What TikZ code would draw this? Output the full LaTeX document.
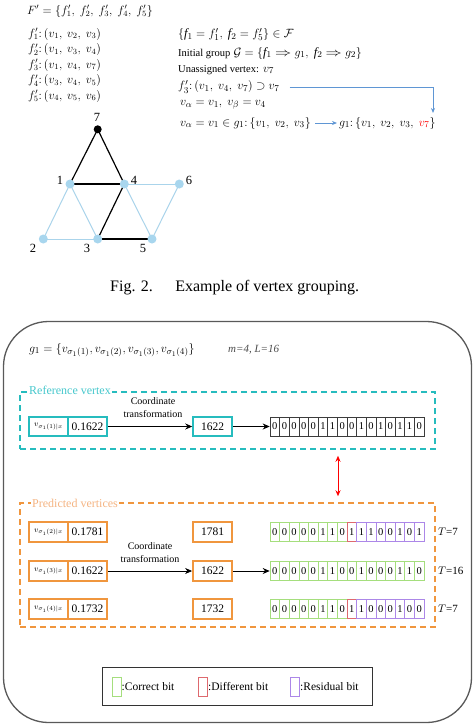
\documentclass[tikz,border=0pt]{standalone}
\usepackage{amsmath,amssymb,graphicx}
\usepackage{fontspec}
\setmainfont{Liberation Serif}
\usetikzlibrary{arrows.meta,backgrounds,calc}
\pgfdeclarelayer{bottom}
\pgfsetlayers{bottom,background,main}
\definecolor{tealc}{RGB}{38,188,190}
\definecolor{teallab}{RGB}{70,200,205}
\definecolor{orc}{RGB}{240,150,62}
\definecolor{orlab}{RGB}{245,180,130}
\definecolor{cg}{RGB}{165,222,125}
\definecolor{cr}{RGB}{222,105,110}
\definecolor{cp}{RGB}{172,135,232}
\definecolor{cb}{RGB}{60,60,60}
\definecolor{nodeblue}{RGB}{168,214,238}
\definecolor{edgeblue}{RGB}{170,212,235}
\definecolor{arrblue}{RGB}{95,150,212}
\newcommand{\tsz}[1]{{\fontsize{10.5}{12}\selectfont #1}}
\newcommand{\lrarr}{\mathrel{\scalebox{1.35}[1]{$\Rightarrow$}}}
\newcommand{\bitrow}[3]{%
  \foreach \b/\c [count=\i] in {#3} {
    \node[bitcell, draw=\c] (#1-\i) at ({270+(\i-0.5)*9.625}, #2) {\b};
  }}
\begin{document}
\begin{tikzpicture}[x=1pt,y=-1pt,
  txt/.style={anchor=west, inner sep=0pt, font=\fontsize{12.5}{14}\selectfont},
  ltxt/.style={anchor=west, inner sep=0pt, font=\fontsize{12}{13}\selectfont},
  gnode/.style={circle, fill=nodeblue, minimum size=9pt, inner sep=0pt},
  knode/.style={circle, fill=black, minimum size=8pt, inner sep=0pt},
  glab/.style={inner sep=0pt, font=\fontsize{12.5}{14}\selectfont},
  kedge/.style={line width=1.2pt, black},
  bedge/.style={line width=1pt, edgeblue},
  blarrow/.style={arrblue, line width=0.8pt, -{Stealth[length=5pt,width=4pt]}},
  karrow/.style={black, line width=0.8pt, -{Stealth[length=7pt,width=6pt]}},
  tbox/.style={draw=tealc, line width=1.5pt, minimum height=19pt, inner sep=0pt, font=\fontsize{11.5}{13}\selectfont},
  obox/.style={draw=orc, line width=1.8pt, minimum height=20pt, inner sep=0pt, font=\fontsize{11.5}{13}\selectfont},
  bitcell/.style={minimum width=9.625pt, minimum height=19pt, inner sep=0pt, line width=0.6pt, font=\fontsize{10.5}{10}\selectfont},
  ctlab/.style={align=center, inner sep=0pt, font=\fontsize{10}{12.5}\selectfont},
  tlab/.style={anchor=west, inner sep=0pt, font=\fontsize{11}{12}\selectfont},
  legrect/.style={minimum width=9pt, minimum height=19pt, inner sep=0pt, line width=0.6pt},
  legtxt/.style={anchor=west, inner sep=0pt, font=\fontsize{11.5}{13}\selectfont}]
\begin{pgfonlayer}{bottom}
\fill[white] (0,0) rectangle (474,726);
\end{pgfonlayer}
\useasboundingbox (0,0) rectangle (474,726);

% ---------- top left text ----------
\node[ltxt] (fset) at (27,11) {$F' = \{f_1',\ f_2',\ f_3',\ f_4',\ f_5'\}$};
\node[ltxt] (fa) at (28,34) {$f_1'{:}\,(v_1,\ v_2,\ v_3)$};
\node[ltxt] (fb) at (28,49.5) {$f_2'{:}\,(v_1,\ v_3,\ v_4)$};
\node[ltxt] (fc) at (28,65) {$f_3'{:}\,(v_1,\ v_4,\ v_7)$};
\node[ltxt] (fd) at (28,80.5) {$f_4'{:}\,(v_3,\ v_4,\ v_5)$};
\node[ltxt] (fe) at (28,96) {$f_5'{:}\,(v_4,\ v_5,\ v_6)$};

% ---------- top right text ----------
\node[txt] (l1) at (178,34.5) {$\{\mathit{f}_1 = f_1',\ \mathit{f}_2 = f_5'\} \in \mathcal{F}$};
\node[txt] (l2) at (178,53) {\tsz{Initial group} $\mathcal{G} = \{\mathit{f}_1 \lrarr g_1,\ \mathit{f}_2 \lrarr g_2\}$};
\node[txt] (l3) at (178,69.5) {\tsz{Unassigned vertex:} $v_7$};
\node[txt] (l4) at (178,87) {$f_3'{:}\,(v_1,\ v_4,\ v_7) \supset v_7$};
\node[txt] (l5) at (180,105) {$v_\alpha = v_1,\ v_\beta = v_4$};
\node[txt] (l6a) at (180,123) {$v_\alpha = v_1 \in g_1{:}\,\{v_1,\ v_2,\ v_3\}$};
\node[txt] (l6b) at (339,123) {$g_1{:}\,\{v_1,\ v_2,\ v_3,\ \textcolor{red}{v_7}\}$};
\coordinate (v7top) at (433,113);
\draw[blarrow, shorten <=10pt] (l4.east) -| (v7top);
\draw[blarrow, shorten <=4pt, shorten >=2pt] (l6a.east) -- (l6b.west);

% ---------- graph ----------
\node[knode] (n7) at (97.7,129.3) {};
\node[gnode] (n1) at (70,184) {};
\node[gnode] (n4) at (124.3,184) {};
\node[gnode] (n6) at (179.3,184) {};
\node[gnode] (n2) at (43.3,239) {};
\node[gnode] (n3) at (97.7,239) {};
\node[gnode] (n5) at (152,239) {};
\begin{pgfonlayer}{background}
\draw[bedge] (n1.center) -- (n2.center);
\draw[bedge] (n1.center) -- (n3.center);
\draw[bedge] (n2.center) -- (n3.center);
\draw[bedge] (n4.center) -- (n6.center);
\draw[bedge] (n4.center) -- (n5.center);
\draw[bedge] (n6.center) -- (n5.center);
\draw[kedge] (n7.center) -- (n1.center);
\draw[kedge] (n7.center) -- (n4.center);
\draw[kedge] (n1.center) -- (n4.center);
\draw[kedge] (n4.center) -- (n3.center);
\draw[kedge] (n3.center) -- (n5.center);
\end{pgfonlayer}
\node[glab] (lb7) at (97,117) {7};
\node[glab] (lb1) at (60,180) {1};
\node[glab] (lb4) at (134,180) {4};
\node[glab] (lb6) at (189,180) {6};
\node[glab] (lb2) at (33,248) {2};
\node[glab] (lb3) at (87,248) {3};
\node[glab] (lb5) at (143,248) {5};

% ---------- caption ----------
\node[anchor=west, inner sep=0pt, font=\fontsize{16}{18}\selectfont] (cap) at (110,288) {Fig. 2.\hspace{1.4em}Example of vertex grouping.};

% ---------- lower panel ----------
\node[draw=black!65, line width=1.3pt, rounded corners=45pt, minimum width=468pt, minimum height=401pt] (panel) at (237.5,522) {};
\node[txt, font=\fontsize{13.2}{14}\selectfont] (ghead) at (29,350) {$g_1 = \{v_{\sigma_1(1)}, v_{\sigma_1(2)}, v_{\sigma_1(3)}, v_{\sigma_1(4)}\}$};
\node[txt, font=\itshape\fontsize{11}{12}\selectfont, text=black!70] (mL) at (228,350) {m=4, L=16};

% reference vertex box
\node[draw=tealc, dashed, dash pattern=on 6pt off 4pt, line width=1.5pt, minimum width=415pt, minimum height=57pt, inner sep=0pt] (refbox) at (227.5,420.5) {};
\node[anchor=west, fill=white, inner sep=1pt, text=teallab, font=\fontsize{12}{13}\selectfont] (reflab) at (28,390) {Reference vertex};

\node[tbox, minimum width=39pt] (rv) at (48.5,426.5) {\fontsize{8.5}{10}\selectfont$v_{\sigma_1(1)|x}$};
\node[tbox, minimum width=39pt] (rval) at (87.5,426.5) {0.1622};
\node[tbox, minimum width=39pt] (rint) at (212.5,426.5) {1622};
\node[ctlab] (rct) at (153,407.5) {Coordinate\\transformation};
\bitrow{rb}{426.5}{0/cb,0/cb,0/cb,0/cb,0/cb,1/cb,1/cb,0/cb,0/cb,1/cb,0/cb,1/cb,0/cb,1/cb,1/cb,0/cb}
\draw[karrow] (rval.east) -- (rint.west);
\draw[karrow] (rint.east) -- (rb-1.west);

% predicted vertices box
\node[draw=orc, dashed, dash pattern=on 6pt off 4pt, line width=1.5pt, minimum width=415pt, minimum height=124pt, inner sep=0pt] (predbox) at (227.5,565) {};
\node[anchor=west, fill=white, inner sep=1pt, text=orlab, font=\fontsize{12}{13}\selectfont] (predlab) at (31,503) {Predicted vertices};

\coordinate (rx) at (338,475);
\draw[red, line width=0.9pt, {Stealth[length=6pt,width=5pt]}-{Stealth[length=6pt,width=5pt]}, shorten <=6pt, shorten >=6pt] (refbox.south -| rx) -- (predbox.north -| rx);

% row 1
\node[obox, minimum width=39pt] (pv1) at (48.5,532) {\fontsize{8.5}{10}\selectfont$v_{\sigma_1(2)|x}$};
\node[obox, minimum width=39pt] (pval1) at (87.5,532) {0.1781};
\node[obox, minimum width=39pt] (pint1) at (212.5,532) {1781};
\bitrow{pa}{532}{0/cg,0/cg,0/cg,0/cg,0/cg,1/cg,1/cg,0/cg,1/cr,1/cp,1/cp,0/cp,0/cp,1/cp,0/cp,1/cp}
\node[tlab] (t1) at (438,532) {$T$=7};
% row 2
\node[obox, minimum width=39pt] (pv2) at (48.5,571) {\fontsize{8.5}{10}\selectfont$v_{\sigma_1(3)|x}$};
\node[obox, minimum width=39pt] (pval2) at (87.5,571) {0.1622};
\node[obox, minimum width=39pt] (pint2) at (212.5,571) {1622};
\node[ctlab] (pct) at (150,552.5) {Coordinate\\transformation};
\bitrow{pb}{571}{0/cg,0/cg,0/cg,0/cg,0/cg,1/cg,1/cg,0/cg,0/cg,1/cg,0/cg,0/cg,0/cg,1/cg,1/cg,0/cg}
\node[tlab] (t2) at (438,571) {$T$=16};
\draw[karrow] (pval2.east) -- (pint2.west);
\draw[karrow] (pint2.east) -- (pb-1.west);
% row 3
\node[obox, minimum width=39pt] (pv3) at (48.5,609) {\fontsize{8.5}{10}\selectfont$v_{\sigma_1(4)|x}$};
\node[obox, minimum width=39pt] (pval3) at (87.5,609) {0.1732};
\node[obox, minimum width=39pt] (pint3) at (212.5,609) {1732};
\bitrow{pc}{609}{0/cg,0/cg,0/cg,0/cg,0/cg,1/cg,1/cg,0/cg,1/cr,1/cp,0/cp,0/cp,0/cp,1/cp,0/cp,0/cp}
\node[tlab] (t3) at (438,609) {$T$=7};

% legend
\node[draw=black!80, line width=0.9pt, minimum width=270pt, minimum height=38pt, inner sep=0pt] (legend) at (237,686) {};
\node[legrect, draw=cg] (lg1) at (116.5,686.5) {};
\node[legtxt] (lgt1) at (121.5,687) {:Correct bit};
\node[legrect, draw=cr] (lg2) at (203,686.5) {};
\node[legtxt] (lgt2) at (208,687) {:Different bit};
\node[legrect, draw=cp] (lg3) at (295,686.5) {};
\node[legtxt] (lgt3) at (300,687) {:Residual bit};
\end{tikzpicture}
\end{document}
